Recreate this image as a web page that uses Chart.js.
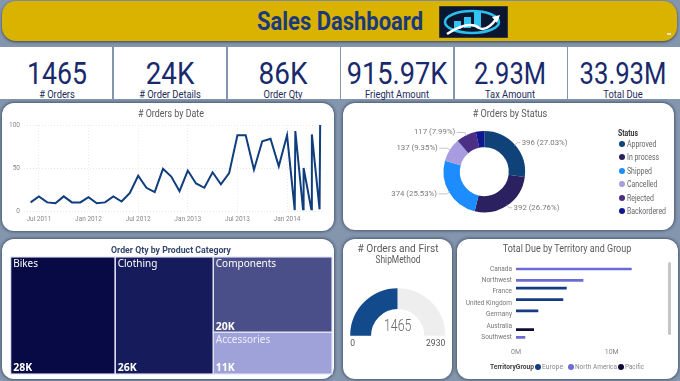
<!DOCTYPE html>
<html>
<head>
<meta charset="utf-8">
<script src="https://cdn.jsdelivr.net/npm/chart.js@4.4.0/dist/chart.umd.min.js"></script>
<style>
  body { margin: 0; width: 680px; height: 381px; overflow: hidden; background: #8396ae; position: relative; font-family: Roboto, sans-serif; }
  .card { position: absolute; background: #fff; border-radius: 12px; box-shadow: 0 0 3px 1px rgba(30,40,60,0.55); }
  .kpi { position: absolute; background: #fff; top: 47px; height: 52px; }
  .t { position: absolute; white-space: nowrap; line-height: 1; }
  canvas { position: absolute; }
  .dot { position: absolute; width: 6px; height: 6px; border-radius: 50%; }
</style>
</head>
<body>

<div style="position:absolute;left:2px;top:1px;width:675px;height:40px;background:#d9b300;border-radius:14px;box-shadow:0 1px 3px rgba(0,0,0,0.55);"></div>
<svg style="position:absolute;left:439px;top:6px" width="69" height="32" viewBox="0 0 69 32">
  <rect x="0" y="0" width="69" height="32" fill="#0b1631" stroke="#6b5d22" stroke-width="1"/>
  <ellipse cx="33" cy="16" rx="27" ry="11" fill="none" stroke="#2bbfee" stroke-width="2.5"/>
  <rect x="15" y="15" width="7" height="8" fill="#33c4f2"/>
  <rect x="25" y="11" width="7" height="11" fill="#33c4f2"/>
  <rect x="35" y="6" width="7" height="15" fill="#33c4f2"/>
  <path d="M8 28 Q30 14 40 22 Q48 26 58 12" fill="none" stroke="#ffffff" stroke-width="2.5"/>
  <path d="M53 11 L61 9 L58 17 Z" fill="#ffffff"/>
</svg>
<div style="position:absolute;left:667px;top:33px;width:4px;height:2px;background:#e8e0c0;"></div>

<div id="kpis"></div>

<div class="card" style="left:2px;top:103px;width:332px;height:128px;"></div>
<div class="card" style="left:343px;top:103px;width:331px;height:127px;"></div>
<div class="card" style="left:2px;top:239px;width:332px;height:140px;"></div>
<div class="card" style="left:343px;top:239px;width:109px;height:140px;"></div>
<div class="card" style="left:457px;top:239px;width:221px;height:140px;"></div>

<canvas id="lineChart" width="332" height="128" style="left:2px;top:103px"></canvas>
<canvas id="donutChart" width="331" height="127" style="left:343px;top:103px"></canvas>
<canvas id="treeChart" width="332" height="140" style="left:2px;top:239px"></canvas>
<canvas id="gaugeChart" width="109" height="141" style="left:343px;top:239px"></canvas>
<canvas id="barChart" width="221" height="141" style="left:457px;top:239px"></canvas>

<div style="position:absolute;left:668px;top:262px;width:3px;height:73px;background:#c6c6c6;border-radius:2px;"></div>

<div id="labels"></div>

<script>
// KPI cards
const kpiValues = ['1465', '24K', '86K', '915.97K', '2.93M', '33.93M'];
const kpiLabels = ['# Orders', '# Order Details', 'Order Qty', 'Frieght Amount', 'Tax Amount', 'Total Due'];

// # Orders by Date (x = months since Jun 2011)
const orderMonths = [0, 1, 2, 3, 4, 5, 6, 7, 8, 9, 10, 11, 12, 13, 14, 15, 16, 17, 18, 19, 20, 21, 22, 23,
                     24, 25, 26, 27, 28, 29, 30, 31, 31.93, 32, 32.93, 33, 33.93, 34, 34.93, 35];
const orderCounts = [10, 17, 10, 9, 17, 10, 10, 16, 9, 10, 17, 11, 21, 41, 27, 22, 49, 40, 23, 47, 32, 27, 45, 31,
                     44, 88, 88, 48, 81, 84, 52, 88, 1, 93, 2, 50, 2, 89, 2, 100];
const dateTicks = [1, 7, 13, 19, 25, 31];
const dateLabels = ['Jul 2011', 'Jan 2012', 'Jul 2012', 'Jan 2013', 'Jul 2013', 'Jan 2014'];

// # Orders by Status
const statusLabels = ['Approved', 'In process', 'Shipped', 'Cancelled', 'Rejected', 'Backordered'];
const statusCounts = [396, 392, 374, 137, 117, 49];
const statusColors = ['#0f4279', '#2b2060', '#1c8cff', '#a89be0', '#4b2f85', '#10168f'];

// Order Qty by Product Category (thousands)
const productCategories = ['Bikes', 'Clothing', 'Components', 'Accessories'];
const productQty = [27.9, 26.2, 20.4, 11.3];
const productColors = ['#070a45', '#161b5b', '#4b4f89', '#9ea2d9'];

// Gauge
const gaugeValue = 1465;
const gaugeMax = 2930;

// Total Due by Territory and Group (millions)
const territories = ['Canada', 'Northwest', 'France', 'United Kingdom', 'Germany', 'Australia', 'Southwest'];
const europeDue = [null, null, 5.3, 4.94, 2.33, null, null];
const northAmericaDue = [12.09, 7.04, null, null, null, null, 0.97];
const pacificDue = [null, null, null, null, null, 1.88, null];
const groupNames = ['Europe', 'North America', 'Pacific'];
const groupColors = ['#133c82', '#6b6bd3', '#0b0b36'];

const FONT = 'Roboto, sans-serif';
Chart.defaults.font.family = FONT;
Chart.defaults.color = '#777';
Chart.defaults.animation = false;
Chart.defaults.responsive = false;
Chart.defaults.plugins.legend.display = false;
Chart.defaults.plugins.tooltip.enabled = false;

// text helper: squeezes Roboto horizontally to the width
const measureCtx = document.createElement('canvas').getContext('2d');
function fontOf(o) { return `${o.weight || 'normal'} ${o.size}px ${FONT}`; }
function squeeze(str, o, width) {
    measureCtx.font = fontOf(o);
    return width / measureCtx.measureText(str).width;
}
const labelBox = document.getElementById('labels');
function text(str, x, y, o) {
    const d = document.createElement('div');
    d.className = 't';
    d.textContent = str;
    d.style.font = fontOf(o);
    d.style.lineHeight = '1';
    d.style.color = o.color || '#555';
    d.style.left = x + 'px';
    d.style.top = y + 'px';
    const k = o.width ? squeeze(str, o, o.width) : (o.k || 0.86);
    if (o.align === 'left') {
        d.style.transformOrigin = 'left center';
        d.style.transform = `translateY(-50%) scaleX(${k})`;
    } else {
        d.style.transform = `translate(-50%,-50%) scaleX(${k})`;
    }
    labelBox.appendChild(d);
    return d;
}
function dot(x, y, color) {
    const d = document.createElement('div');
    d.className = 'dot';
    d.style.left = (x - 3) + 'px';
    d.style.top = (y - 3) + 'px';
    d.style.background = color;
    labelBox.appendChild(d);
}

// header
text('Sales Dashboard', 340, 21, { size: 25, weight: 'bold', color: '#1b3a7c', width: 166 });

// KPIs
const kpiBox = document.getElementById('kpis');
const kpiValueWidths = [60, 48.6, 49, 100.6, 72, 87];
const labelK = squeeze('Frieght Amount', { size: 10.5 }, 64);
kpiValues.forEach((v, i) => {
    const left = Math.round(i * 113.4) + (i ? 1 : 0);
    const card = document.createElement('div');
    card.className = 'kpi';
    card.style.left = left + 'px';
    card.style.width = (i === 5 ? 680 - left : 112) + 'px';
    kpiBox.appendChild(card);
    const cx = i * 113.3 + 56.7;
    text(v, cx, 74, { size: 31.5, color: '#182a6c', width: kpiValueWidths[i] });
    text(kpiLabels[i], cx, 94.5, { size: 10.5, color: '#1d2b58', k: labelK });
});

// titles
text('# Orders by Date', 171, 114, { size: 10, color: '#5a5a5a', width: 66 });
text('# Orders by Status', 510, 114, { size: 10, color: '#5a5a5a', width: 74.6 });
text('Order Qty by Product Category', 171, 249.5, { size: 9.5, weight: 'bold', color: '#34466f', width: 120 });
text('# Orders and First', 397.5, 249, { size: 10, color: '#5a5a5a', width: 81 });
text('ShipMethod', 397.5, 260, { size: 10, color: '#5a5a5a', width: 45 });
text('Total Due by Territory and Group', 567, 249, { size: 10, color: '#5a5a5a', width: 128.7 });

// donut legend
text('Status', 618, 133, { align: 'left', size: 8.5, weight: 'bold', color: '#333', width: 20 });
const legendK = squeeze('Backordered', { size: 8.5 }, 39);
statusLabels.forEach((s, i) => {
    const y = 143.7 + i * 13.45;
    dot(622, y, statusColors[i]);
    text(s, 626.5, y, { align: 'left', size: 8.5, color: '#666', k: legendK });
});

// bar legend
text('TerritoryGroup', 490, 367.3, { align: 'left', size: 7.5, weight: 'bold', color: '#444', width: 44 });
const legendX = [537.7, 570.7, 620.7];
const legendW = [21, 42, 19];
groupNames.forEach((g, i) => {
    dot(legendX[i], 367.3, groupColors[i]);
    text(g, legendX[i] + 4, 367.3, { align: 'left', size: 7.5, color: '#888', width: legendW[i] });
});

// Line chart
new Chart(document.getElementById('lineChart'), {
    type: 'line',
    data: {
        datasets: [{
            data: orderMonths.map((m, i) => ({ x: m, y: orderCounts[i] })),
            borderColor: '#0f3d7e',
            borderWidth: 2,
            pointRadius: 0,
            tension: 0,
            clip: 4
        }]
    },
    options: {
        layout: { padding: { left: 0, right: 12.2, top: 22, bottom: 0 } },
        scales: {
            x: {
                type: 'linear', min: -0.8, max: 35.2,
                afterBuildTicks: axis => { axis.ticks = dateTicks.map(v => ({ value: v })); },
                afterFit: axis => { axis.height = 20; },
                ticks: { callback: (v, i) => dateLabels[i], font: { size: 6.5 }, color: '#888', padding: 4, maxRotation: 0, minRotation: 0, autoSkip: false },
                grid: { color: '#ebebeb', drawTicks: false },
                border: { display: false, dash: [1, 2] }
            },
            y: {
                min: 0, max: 100,
                afterFit: axis => { axis.width = 22; },
                ticks: { stepSize: 50, font: { size: 6.5 }, color: '#888', padding: 4 },
                grid: { color: '#e6e6e6', drawTicks: false },
                border: { display: false, dash: [1, 2] }
            }
        }
    }
});

// Donut with outside labels
const donutLabels = {
    id: 'donutLabels',
    afterDatasetsDraw(chart) {
        const ctx = chart.ctx;
        const total = statusCounts.reduce((a, b) => a + b, 0);
        chart.getDatasetMeta(0).data.forEach((arc, i) => {
            const v = statusCounts[i];
            if (v / total < 0.05) return;
            const { x, y, startAngle, endAngle, outerRadius } = arc.getProps(['x', 'y', 'startAngle', 'endAngle', 'outerRadius']);
            const mid = (startAngle + endAngle) / 2;
            const c = Math.cos(mid), s = Math.sin(mid);
            const right = c >= 0;
            const px = x + c * (outerRadius - 1), py = y + s * (outerRadius - 1);
            const ex = x + c * (outerRadius + 3), ey = y + s * (outerRadius + 3);
            const hx = ex + (right ? 3 : -8);
            ctx.save();
            ctx.strokeStyle = '#b5b5b5';
            ctx.lineWidth = 0.8;
            ctx.beginPath();
            ctx.moveTo(px, py);
            ctx.lineTo(ex, ey);
            ctx.lineTo(hx, ey);
            ctx.stroke();
            ctx.fillStyle = '#7a7a7a';
            ctx.font = '7.8px ' + FONT;
            ctx.textAlign = right ? 'left' : 'right';
            ctx.textBaseline = 'middle';
            ctx.fillText(`${v} (${(v / total * 100).toFixed(2)}%)`, hx + (right ? 1.5 : -1.5), ey);
            ctx.restore();
        });
    }
};
new Chart(document.getElementById('donutChart'), {
    type: 'doughnut',
    data: { labels: statusLabels, datasets: [{ data: statusCounts, backgroundColor: statusColors, borderWidth: 0 }] },
    options: {
        cutout: '60%',
        layout: { padding: { left: 100.5, top: 27.9, right: 148.9, bottom: 17.5 } }
    },
    plugins: [donutLabels]
});

// Treemap built from filled line segments on linear scales
function treemapCells(values) {
    const total = values.reduce((a, b) => a + b, 0);
    const [a, b, c, d] = values;
    return [
        { x0: 0, x1: a, y0: 0, y1: 1 },
        { x0: a, x1: a + b, y0: 0, y1: 1 },
        { x0: a + b, x1: total, y0: d / (c + d), y1: 1 },
        { x0: a + b, x1: total, y0: 0, y1: d / (c + d) }
    ];
}
const cells = treemapCells(productQty);
const treeLabels = {
    id: 'treeLabels',
    afterDatasetsDraw(chart) {
        const ctx = chart.ctx;
        const sx = chart.scales.x, sy = chart.scales.y;
        ctx.save();
        cells.forEach((c, i) => {
            const l = sx.getPixelForValue(c.x0), r = sx.getPixelForValue(c.x1);
            const t = sy.getPixelForValue(c.y1), b = sy.getPixelForValue(c.y0);
            ctx.strokeStyle = 'rgba(225,225,245,0.95)';
            ctx.lineWidth = 1.2;
            ctx.strokeRect(l, t, r - l, b - t);
            ctx.fillStyle = i === 3 ? '#eeeefa' : '#ffffff';
            ctx.textAlign = 'left';
            ctx.textBaseline = 'top';
            ctx.font = "10px 'Noto Sans', 'Open Sans', sans-serif";
            ctx.fillText(productCategories[i], l + 2.5, t + 2.5);
            ctx.fillStyle = '#ffffff';
            ctx.textBaseline = 'bottom';
            ctx.font = "bold 10.5px 'Noto Sans', 'Open Sans', sans-serif";
            ctx.fillText(Math.round(productQty[i]) + 'K', l + 2.5, b - 0.5);
        });
        ctx.restore();
    }
};
new Chart(document.getElementById('treeChart'), {
    type: 'line',
    data: {
        datasets: cells.map((c, i) => ({
            data: [{ x: c.x0, y: c.y1 }, { x: c.x1, y: c.y1 }],
            fill: { value: c.y0 },
            backgroundColor: productColors[i],
            borderColor: 'transparent',
            borderWidth: 0,
            pointRadius: 0
        }))
    },
    options: {
        layout: { padding: { left: 8.7, right: 2, top: 18, bottom: 5 } },
        scales: {
            x: { type: 'linear', display: false, min: 0, max: productQty.reduce((a, b) => a + b, 0) },
            y: { display: false, min: 0, max: 1 }
        }
    },
    plugins: [treeLabels]
});

// Gauge
const gaugeText = {
    id: 'gaugeText',
    afterDatasetsDraw(chart) {
        const ctx = chart.ctx;
        const arc = chart.getDatasetMeta(0).data[0];
        const { x, y, outerRadius } = arc.getProps(['x', 'y', 'outerRadius']);
        ctx.save();
        ctx.fillStyle = '#6a6a6a';
        ctx.textBaseline = 'middle';
        ctx.textAlign = 'center';
        ctx.font = '300 16px ' + FONT;
        ctx.save();
        ctx.translate(x, y - 8.5);
        ctx.scale(27.4 / ctx.measureText(String(gaugeValue)).width, 1);
        ctx.fillText(String(gaugeValue), 0, 0);
        ctx.restore();
        ctx.font = '8.5px ' + FONT;
        ctx.fillStyle = '#555';
        ctx.textAlign = 'left';
        ctx.fillText('0', x - outerRadius, y + 8.5);
        ctx.textAlign = 'right';
        ctx.fillText(String(gaugeMax), x + outerRadius, y + 8.5);
        ctx.restore();
    }
};
new Chart(document.getElementById('gaugeChart'), {
    type: 'doughnut',
    data: { datasets: [{ data: [gaugeValue, gaugeMax - gaugeValue], backgroundColor: ['#124a8b', '#eeeeee'], borderWidth: 0 }] },
    options: {
        rotation: -90,
        circumference: 180,
        cutout: '56%',
        layout: { padding: { left: 7.2, right: 6.8, top: 49.2, bottom: 44.3 } }
    },
    plugins: [gaugeText]
});

// Bar chart
new Chart(document.getElementById('barChart'), {
    type: 'bar',
    data: {
        labels: territories,
        datasets: [europeDue, northAmericaDue, pacificDue].map((d, i) => ({
            label: groupNames[i],
            data: d,
            backgroundColor: groupColors[i],
            categoryPercentage: 0.95,
            barPercentage: 0.75
        }))
    },
    options: {
        indexAxis: 'y',
        layout: { padding: { left: 0, right: 37.6, top: 24.3, bottom: 23 } },
        scales: {
            x: {
                min: 0, max: 13,
                afterFit: axis => { axis.height = 14; },
                ticks: {
                    stepSize: 10,
                    callback: v => (v % 10 === 0 ? v + 'M' : ''),
                    font: { size: 7 }, color: '#888', padding: 5, maxRotation: 0, minRotation: 0, autoSkip: false
                },
                grid: { display: false, drawTicks: false },
                border: { display: false }
            },
            y: {
                afterFit: axis => { axis.width = 59; },
                ticks: { font: { size: 6.5 }, color: '#777', padding: 4, autoSkip: false },
                grid: { display: false, drawTicks: false },
                border: { display: false }
            }
        }
    }
});
</script>
</body>
</html>
